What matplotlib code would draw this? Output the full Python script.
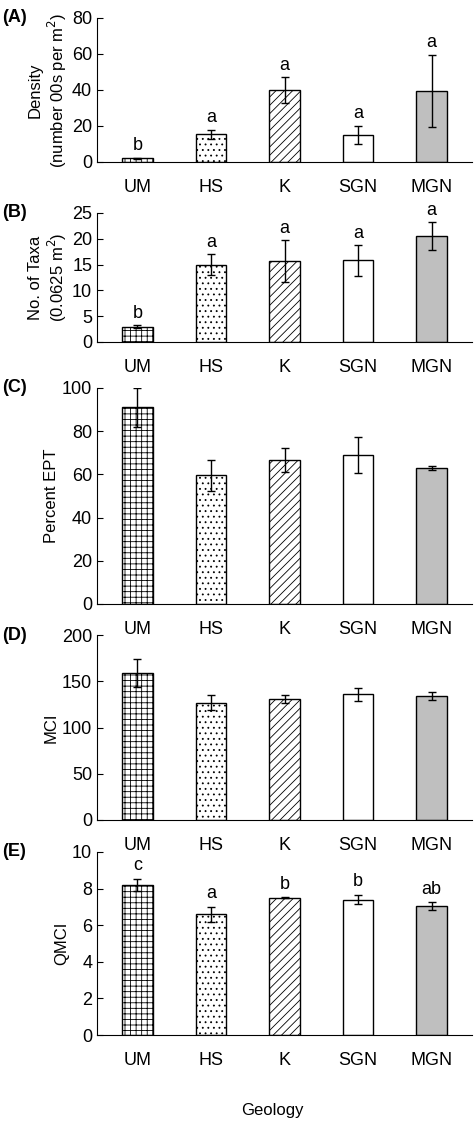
import matplotlib
matplotlib.use("Agg")
import matplotlib.pyplot as plt
plt.rcParams['font.family'] = ['Liberation Sans', 'DejaVu Sans']
plt.rcParams['hatch.linewidth'] = 0.6

cats = ["UM", "HS", "K", "SGN", "MGN"]
dens = [2, 15.5, 40, 15, 39.5]; dens_e = [0.5, 2.5, 7, 5, 20]
taxa = [3, 15, 15.7, 15.8, 20.6]; taxa_e = [0.3, 2, 4, 3, 2.7]
ept = [91, 59.5, 66.5, 69, 63]; ept_e = [9, 7, 5.5, 8.5, 1]
mci = [159, 127, 131, 136, 134]; mci_e = [15, 8, 4, 7, 4]
qmci = [8.2, 6.6, 7.5, 7.4, 7.05]; qmci_e = [0.35, 0.4, 0.02, 0.25, 0.2]
lettersA = ["b", "a", "a", "a", "a"]
lettersB = ["b", "a", "a", "a", "a"]
lettersE = ["c", "a", "b", "b", "ab"]

hatches = ["+++", "...", "////", "", ""]
colors = ["white", "white", "white", "white", "#bfbfbf"]

panels = [
    ("(A)", dens, dens_e, lettersA, 80, 20, "Density\n(number 00s per m$^2$)", 18, 162),
    ("(B)", taxa, taxa_e, lettersB, 25, 5, "No. of Taxa\n(0.0625 m$^2$)", 213, 342),
    ("(C)", ept, ept_e, None, 100, 20, "Percent EPT", 388, 604),
    ("(D)", mci, mci_e, None, 200, 50, "MCI", 635, 820),
    ("(E)", qmci, qmci_e, lettersE, 10, 2, "QMCI", 852, 1035),
]
W, H = 474, 1123
fig = plt.figure(figsize=(W/100, H/100), dpi=100)
for lab, v, e, let, ymax, step, ylab, ytop, ybot in panels:
    ax = fig.add_axes([97/W, 1-ybot/H, 375/W, (ybot-ytop)/H])
    x = range(len(cats))
    ax.bar(x, v, width=0.42, color=colors, edgecolor="black", hatch=hatches, linewidth=1)
    ax.errorbar(x, v, yerr=e, fmt="none", ecolor="black", capsize=3, elinewidth=1)
    ax.set_ylim(0, ymax)
    ax.set_yticks([i*step for i in range(int(ymax/step)+1)])
    ax.set_xlim(-0.55, 4.55)
    ax.set_xticks(list(x))
    ax.set_xticklabels(cats, fontsize=13)
    ax.tick_params(axis='x', length=0, pad=12)
    ax.tick_params(axis='y', labelsize=13, direction='in', length=4)
    for s in ["top", "right"]:
        ax.spines[s].set_visible(False)
    ax.set_ylabel(ylab, fontsize=12, labelpad=2)
    ax.text(-97/375 + 0.005, 1.0, lab, transform=ax.transAxes, fontsize=13,
            fontweight="bold", ha="left", va="center")
    if let:
        for i in x:
            ax.text(i, v[i]+e[i]+ymax*0.025, let[i], ha="center", va="bottom", fontsize=13)
fig.text(272/W, 1-1110/H, "Geology", ha="center", va="center", fontsize=12)
fig.savefig("out.png", dpi=100)
